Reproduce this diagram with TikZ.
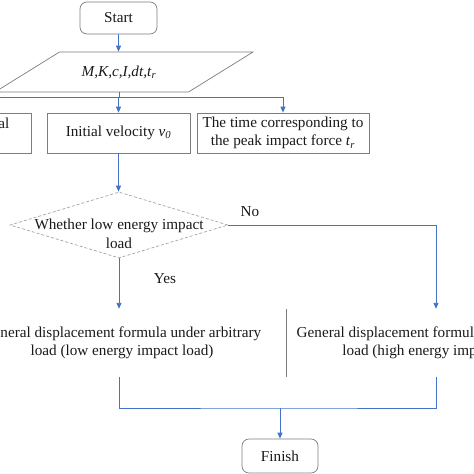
\documentclass[tikz,border=0pt]{standalone}
\usepackage{fontspec}
\setmainfont{Liberation Serif}
\usetikzlibrary{shapes.geometric,arrows.meta}
\definecolor{flowblue}{RGB}{68,114,196}
\definecolor{boxgray}{RGB}{125,125,125}
\tikzset{
  every node/.style={font=\fontsize{15.2pt}{18.5pt}\selectfont, text=black!90},
  term/.style={draw=boxgray, rounded corners=7pt, minimum width=77pt, minimum height=32pt, line width=0.7pt},
  iobox/.style={draw=boxgray, trapezium, trapezium left angle=63.4, trapezium right angle=116.6,
    trapezium stretches=true, minimum width=258pt, minimum height=40pt, inner sep=1pt, line width=0.7pt},
  procbox/.style={draw=boxgray, minimum height=40pt, inner sep=2pt, align=center, line width=0.7pt},
  decision/.style={draw=boxgray!70, dash pattern=on 3pt off 2pt, diamond, minimum width=218pt,
    minimum height=66pt, inner sep=1pt, line width=0.7pt},
  resbox/.style={align=center, minimum width=298pt, minimum height=68pt},
  flow/.style={draw=flowblue, line width=0.9pt},
  arr/.style={flow, -{Triangle[length=6pt,width=5pt]}}
}
\begin{document}
\begin{tikzpicture}[x=1pt,y=-1pt]
\useasboundingbox (0,0) rectangle (474,474);
\clip (0,0) rectangle (474,474);

% Start and the input data
\node[term] (start) at (118.5,18) {Start};
\node[iobox] (param) at (124,72) {};
\node (paramtext) at (119,72) {\textit{M,K,c,I,dt,t}\textsubscript{\textit{r}}};

% The three boxes under the data
\node[procbox, minimum width=172pt] (lbox) at (-55,133) {};
\node[anchor=base east] (ltext) at (13,128.5) {al};
\node[procbox, minimum width=143pt] (vel) at (118.5,133) {Initial velocity \textit{v}\textsubscript{\textit{0}}};
\node[procbox, minimum width=172pt] (tbox) at (283,133) {The time corresponding to\\the peak impact force \textit{t}\textsubscript{\textit{r}}};

% Decision
\node[decision] (dec) at (119,225) {};
\node[align=center] (dectext) at (119,234) {Whether low energy impact\\load};
\node (no) at (250,212) {No};
\node (yes) at (165,279) {Yes};

% The two results and the end
\node[resbox] (lowbox) at (122,343) {General displacement formula under arbitrary\\load (low energy impact load)};
\node[resbox] (highbox) at (436,343) {General displacement formula under arbitrary\\load (high energy impact load)};
\draw[boxgray, line width=0.7pt] (highbox.north west) -- (highbox.south west);
\node[term, minimum width=76pt, minimum height=34pt] (finish) at (280,456) {Finish};

% Connectors
\coordinate (bus) at (119,97);
\coordinate (merge) at (280,408);
\draw[arr] (start) -- (start |- param.north);
\draw[flow] (param.south -| bus) -- (bus);
\draw[flow] (lbox.north |- bus) -- (tbox.north |- bus);
\foreach \b in {lbox,vel,tbox}
  \draw[arr] (\b.north |- bus) -- (\b.north);
\draw[arr] (vel.south) -- (vel.south |- dec.north);
\draw[arr] (dec.south) -- (dec.south |- lowbox.north);
\draw[arr] (dec.east) -| (highbox.north);
\draw[flow] (lowbox.south -| dec.south) |- (merge) -| (highbox.south);
\draw[arr] (merge) -- (finish);

\end{tikzpicture}
\end{document}
